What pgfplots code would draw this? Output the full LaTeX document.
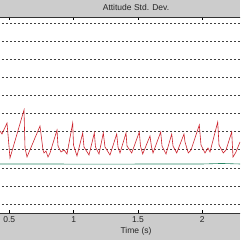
\documentclass[border=0pt]{standalone}
\usepackage{pgfplots}
\pgfplotsset{compat=1.18}
\usepackage{fontspec}
\setmainfont{Liberation Sans}
\definecolor{figgray}{RGB}{204,204,204}
\definecolor{sigred}{RGB}{205,35,45}
\definecolor{siggreen}{RGB}{40,135,100}
\begin{document}
\begin{tikzpicture}
\clip (0,0) rectangle (240pt,240pt);
\fill[figgray] (0,0) rectangle (240pt,240pt);
\begin{axis}[
  at={(-30pt,27pt)}, anchor=south west,
  width=332pt, height=196pt, scale only axis,
  xmin=0.1946, xmax=2.7743,
  ymin=-0.497, ymax=10.33,
  axis background/.style={fill=white},
  xtick={0.5,1,1.5,2},
  xticklabels={0.5,1,1.5,2},
  ytick={0,1,...,10},
  yticklabels={},
  ymajorgrids,
  grid style={black!75, line width=0.5pt, dash pattern=on 2pt off 2pt},
  tick align=inside,
  major tick length=3pt,
  xtick pos=both,
  ytick pos=left,
  axis line style={black!80, line width=0.6pt},
  tick style={black, line width=0.6pt},
  /pgf/number format/assume math mode=true,
  xticklabel style={font=\fontsize{8.5}{9}\selectfont, anchor=center, yshift=-7pt, text=black!85},
  title={Attitude Std. Dev.},
  title style={font=\fontsize{8.5}{9}\selectfont, at={(rel axis cs:0.5,1)}, anchor=center, yshift=3.7pt, text=black!85},
  xlabel={Time (s)},
  xlabel style={font=\fontsize{8.5}{9}\selectfont, at={(rel axis cs:0.5,0)}, anchor=center, yshift=-18.7pt, text=black!85},
]
\addplot[siggreen, line width=0.6pt] coordinates {
(0.4277,2.21) (0.8,2.21) (1.2,2.20) (1.6,2.21) (2.0,2.21) (2.15,2.24) (2.2926,2.21)
};
\addplot[sigred, line width=0.6pt] table {
t v
0.4277 4.033
0.4433 3.867
0.4821 4.475
0.5054 2.541
0.6142 5.193
0.6220 3.094
0.6375 2.597
0.7385 4.309
0.7618 2.983
0.7696 2.818
0.7852 2.928
0.8007 2.597
0.8162 2.818
0.8706 4.088
0.8784 3.204
0.9017 2.873
0.9250 2.983
0.9483 2.762
0.9926 4.475
0.9988 3.260
1.0260 2.652
1.0703 3.923
1.0804 3.149
1.1193 2.707
1.1605 3.923
1.1698 3.149
1.1970 2.762
1.2304 3.923
1.2436 3.149
1.2824 2.707
1.3345 3.867
1.3446 3.149
1.3602 2.818
1.4068 3.923
1.4146 3.204
1.4510 2.818
1.5101 3.978
1.5194 3.204
1.5365 2.762
1.5932 3.757
1.6049 3.149
1.6166 2.818
1.6764 3.978
1.6865 3.204
1.7176 2.762
1.7619 3.867
1.7720 3.204
1.8007 2.818
1.8574 3.867
1.8652 3.425
1.8908 2.818
1.9118 2.983
1.9763 4.365
1.9895 3.260
2.0206 2.818
2.0439 3.094
2.0594 2.873
2.1193 4.530
2.1294 3.260
2.1628 2.818
2.1838 2.983
2.2281 3.978
2.2382 2.597
2.2615 2.873
2.2926 3.425
};
\end{axis}
\end{tikzpicture}
\end{document}
